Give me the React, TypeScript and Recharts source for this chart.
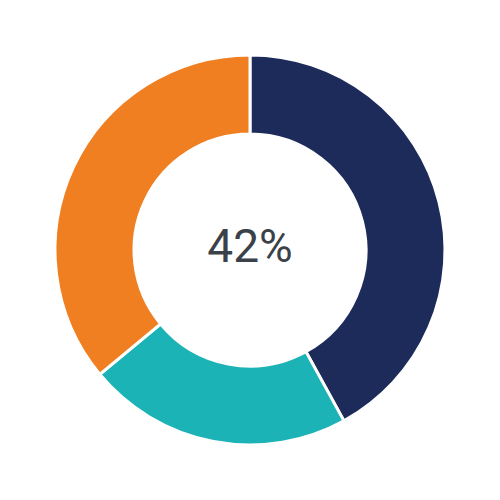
import { PieChart, Pie, Cell, Label } from "recharts"

const segmentNames = ["Navy", "Teal", "Orange"]
const segmentValues = [42, 22, 36]
const segmentColors = ["#1d2b5a", "#1bb3b5", "#f07f22"]
const centerText = "42%"

const data = segmentNames.map((name, i) => ({ name, value: segmentValues[i] }))

export default function App() {
  return (
    <div style={{ position: "absolute", left: 0, top: 0, width: 500, height: 500, background: "#fff" }}>
      <PieChart width={500} height={500}>
        <Pie
          data={data}
          dataKey="value"
          nameKey="name"
          cx={245}
          cy={245}
          innerRadius={116}
          outerRadius={195}
          startAngle={90}
          endAngle={-270}
          stroke="#ffffff"
          strokeWidth={3}
          isAnimationActive={false}
        >
          {data.map((d, i) => (
            <Cell key={d.name} fill={segmentColors[i]} />
          ))}
          <Label
            value={centerText}
            position="center"
            dy={-4}
            fill="#3a4148"
            style={{ fontFamily: "Roboto, sans-serif", fontSize: 46, fontWeight: 400 }}
          />
        </Pie>
      </PieChart>
    </div>
  )
}
